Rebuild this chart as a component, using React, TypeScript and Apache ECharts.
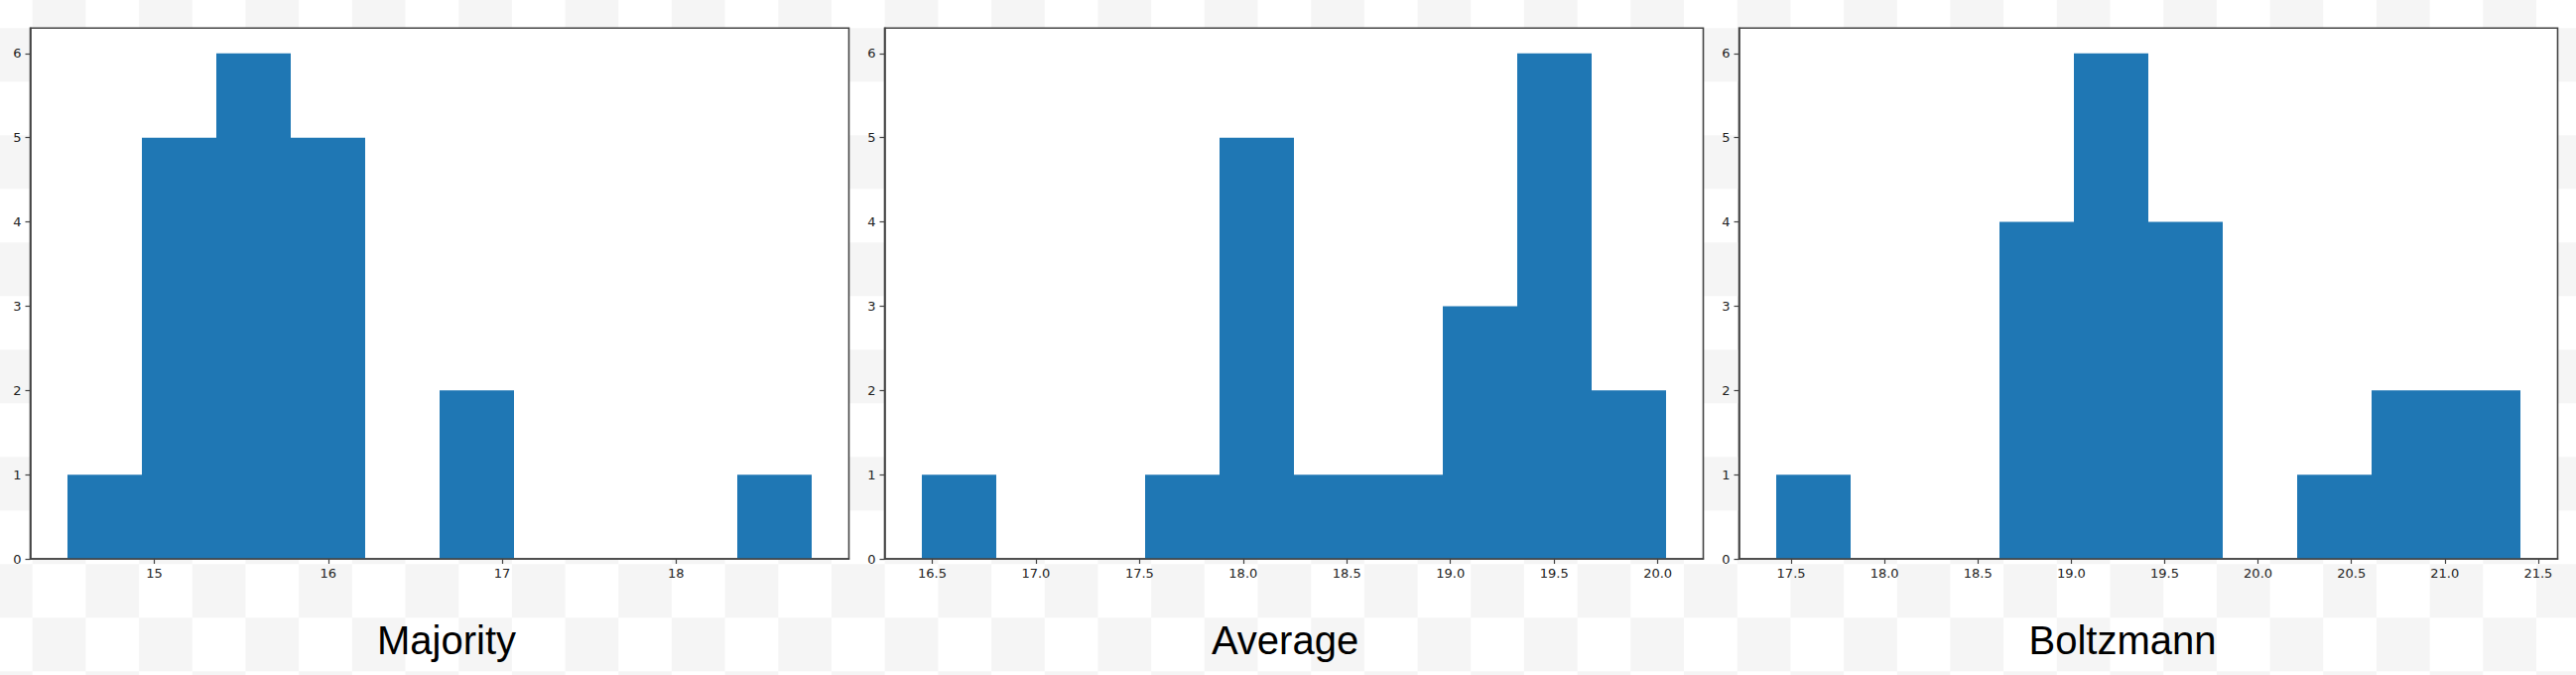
import React, { useEffect, useRef } from "react";
import * as echarts from "echarts";

// ---- data ----
const titles = ["Majority", "Average", "Boltzmann"];

const majorityEdges = [14.5, 14.928, 15.356, 15.784, 16.212, 16.64, 17.068, 17.496, 17.924, 18.352, 18.78];
const majorityCounts = [1, 5, 6, 5, 0, 2, 0, 0, 0, 1];

const averageEdges = [16.45, 16.809, 17.168, 17.527, 17.886, 18.245, 18.604, 18.963, 19.322, 19.681, 20.04];
const averageCounts = [1, 0, 0, 1, 5, 1, 1, 3, 6, 2];

const boltzmannEdges = [17.42, 17.8185, 18.217, 18.6155, 19.014, 19.4125, 19.811, 20.2095, 20.608, 21.0065, 21.405];
const boltzmannCounts = [1, 0, 0, 4, 6, 4, 0, 1, 2, 2];

const majorityTicks = [15, 16, 17, 18];
const averageTicks = [16.5, 17.0, 17.5, 18.0, 18.5, 19.0, 19.5, 20.0];
const boltzmannTicks = [17.5, 18.0, 18.5, 19.0, 19.5, 20.0, 20.5, 21.0, 21.5];
const countTicks = [0, 1, 2, 3, 4, 5, 6];
const tickDecimals = [0, 1, 1];

// ---- layout ----
const W = 2596;
const H = 680;
const panelLefts = [30.5, 891.5, 1752.5];
const panelTop = 28.3;
const panelWidth = 825;
const panelHeight = 534.7;
const titleCenters = [450, 1295, 2139];
const titleY = 645.4;
const yMax = 6.3;

const BAR = "#1f77b4";
const SPINE = "#444444";
const LABEL = "#222222";

export default function App() {
  const ref = useRef<HTMLDivElement>(null);

  useEffect(() => {
    if (!ref.current) return;
    const chart = echarts.init(ref.current, undefined, { renderer: "svg", width: W, height: H });

    const edgesList = [majorityEdges, averageEdges, boltzmannEdges];
    const countsList = [majorityCounts, averageCounts, boltzmannCounts];
    const ticksList = [majorityTicks, averageTicks, boltzmannTicks];

    const grids = panelLefts.map((left) => ({
      left,
      top: panelTop,
      width: panelWidth,
      height: panelHeight,
      show: true,
      backgroundColor: "#ffffff",
      borderColor: SPINE,
      borderWidth: 1.6,
      containLabel: false,
    }));

    const xAxes = edgesList.map((edges, i) => {
      const lo = edges[0];
      const hi = edges[edges.length - 1];
      const pad = (hi - lo) * 0.05;
      return {
        type: "value",
        gridIndex: i,
        min: lo - pad,
        max: hi + pad,
        z: 5,
        axisLine: { show: true, onZero: false, lineStyle: { color: SPINE, width: 1.6 } },
        axisTick: {
          show: true,
          length: 5,
          inside: false,
          customValues: ticksList[i],
          lineStyle: { color: SPINE, width: 1.2 },
        },
        axisLabel: {
          show: true,
          customValues: ticksList[i],
          formatter: (v: number) => v.toFixed(tickDecimals[i]),
          fontFamily: "DejaVu Sans",
          fontSize: 13,
          color: LABEL,
          margin: 8,
        },
        splitLine: { show: false },
      };
    });

    const yAxes = panelLefts.map((_, i) => ({
      type: "value",
      gridIndex: i,
      min: 0,
      max: yMax,
      z: 5,
      axisLine: { show: true, lineStyle: { color: SPINE, width: 1.6 } },
      axisTick: {
        show: true,
        length: 5,
        inside: false,
        customValues: countTicks,
        lineStyle: { color: SPINE, width: 1.2 },
      },
      axisLabel: {
        show: true,
        customValues: countTicks,
        formatter: (v: number) => String(Math.round(v)),
        fontFamily: "DejaVu Sans",
        fontSize: 13,
        color: LABEL,
        margin: 9,
      },
      splitLine: { show: false },
    }));

    const series = edgesList.map((edges, i) => ({
      type: "custom",
      xAxisIndex: i,
      yAxisIndex: i,
      z: 2,
      data: countsList[i].map((c, k) => [edges[k], edges[k + 1], c]),
      encode: { x: [0, 1], y: 2 },
      renderItem: (_params: any, api: any) => {
        const p0 = api.coord([api.value(0), api.value(2)]);
        const p1 = api.coord([api.value(1), 0]);
        return {
          type: "rect",
          shape: { x: p0[0], y: p0[1], width: p1[0] - p0[0], height: p1[1] - p0[1] },
          style: { fill: BAR },
        };
      },
    }));

    const graphic = titles.map((t, i) => ({
      type: "text",
      x: titleCenters[i],
      y: titleY,
      z: 10,
      style: {
        text: t,
        fill: "#000000",
        fontSize: 40,
        fontFamily: "Liberation Sans",
        align: "center",
        verticalAlign: "middle",
      },
    }));

    chart.setOption({
      animation: false,
      backgroundColor: "transparent",
      grid: grids,
      xAxis: xAxes,
      yAxis: yAxes,
      series,
      graphic,
    } as any);

    return () => {
      chart.dispose();
    };
  }, []);

  return (
    <div
      style={{
        position: "fixed",
        left: 0,
        top: 0,
        width: W,
        height: H,
        backgroundColor: "#ffffff",
        backgroundImage:
          "conic-gradient(#f5f5f5 25%, #ffffff 0 50%, #f5f5f5 0 75%, #ffffff 0)",
        backgroundSize: "107.38px 108px",
        backgroundPosition: "32.7px 28.3px",
      }}
    >
      <div ref={ref} style={{ width: W, height: H }} />
    </div>
  );
}
